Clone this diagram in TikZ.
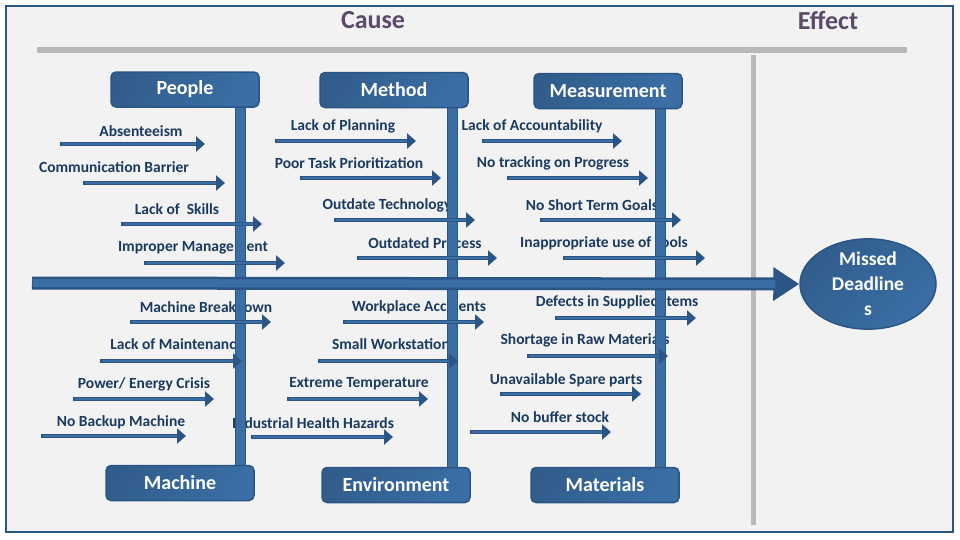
\documentclass[tikz,border=0pt]{standalone}
\usepackage{fontspec}
\setmainfont{Carlito}
\usetikzlibrary{arrows.meta,shapes.geometric}
\definecolor{dk}{HTML}{2A5585}
\definecolor{md}{HTML}{3A6EA5}
\definecolor{bg}{HTML}{F2F2F2}
\definecolor{ttl}{HTML}{5B4A6B}
\definecolor{lbl}{HTML}{1A3A60}
\tikzset{x=1pt,y=-1pt,
 hdr/.style={draw=dk,line width=1.5pt,rounded corners=5pt,top color=md!85!black,bottom color=md,shading angle=60,
   text=white,font=\bfseries\fontsize{20}{22}\selectfont,minimum width=148pt,minimum height=35pt,inner sep=0pt},
 lab/.style={text=lbl,font=\bfseries\fontsize{15.5}{17}\selectfont,inner sep=0pt},
 sa/.style={draw=dk,line width=4.5pt,-{Triangle[length=9pt,width=15pt]},color=dk},
 spine/.style={draw=dk,fill=md,line width=1pt}}
\begin{document}
\begin{tikzpicture}
\useasboundingbox (0,0) rectangle (960,539);
\node[draw=dk,line width=2pt,fill=bg,minimum width=947pt,minimum height=526pt,inner sep=0pt] (frame) at (479,268.5) {};
\node[text=ttl,font=\bfseries\fontsize{26}{28}\selectfont] (cause) at (373,20) {Cause};
\node[text=ttl,font=\bfseries\fontsize{26}{28}\selectfont] (effect) at (828,20) {Effect};
\fill[gray!55] (37,47) rectangle (907,53);
\fill[gray!55] (751,55) rectangle (756,525);
% labels
\foreach \n/\t/\x/\y in {
 a1/Absenteeism/141/131, a2/Communication Barrier/114/167, a3/Lack of\ \ Skills/177/209, a4/Improper Management/193/248,
 b1/Machine Breakdown/206/307, b2/Lack of Maintenance/177/344, b3/Power\slash\ Energy Crisis/144/384, b4/No Backup Machine/121/422,
 c1/Lack of Planning/343/126, c2/Poor Task Prioritization/349/163, c3/Outdate Technology/387/205, c4/Outdated Process/425/243,
 d1/Workplace Accidents/419/307, d2/Small Workstations/394/344, d3/Extreme Temperature/359/384, d4/Industrial Health Hazards/313/423,
 e1/Lack of Accountability/532/126, e2/No tracking on Progress/553/163, e3/No Short Term Goals/592/205, e4/Inappropriate use of Tools/604/243,
 f1/Defects in Supplied Items/617/302, f2/Shortage in Raw Materials/585/340, f3/Unavailable Spare parts/566/380, f4/No buffer stock/560/417}
 \node[lab] (\n) at (\x,\y) {\t};
% spines
\fill[spine] (235.5,100) rectangle (245,467);
\fill[spine] (447.5,100) rectangle (457,469);
\fill[spine] (655.5,100) rectangle (665,469);
% headers
\node[hdr] (people) at (185,89.5) {People};
\node[hdr] (method) at (394,90) {Method};
\node[hdr] (meas) at (608,91) {Measurement};
\node[hdr] (machine) at (180,483) {Machine};
\node[hdr] (env) at (396,485) {Environment};
\node[hdr] (mat) at (605,485) {Materials};
% effect
\node[ellipse,draw=dk,line width=1.5pt,top color=md!85!black,bottom color=md,shading angle=45,minimum width=136pt,minimum height=82pt,
 text=white,font=\bfseries\fontsize{19.5}{25}\selectfont,align=center,inner sep=0pt] (eff) at (868,284) {Missed\\Deadline\\s};
% main arrow
\coordinate (ms) at (32,283);
\draw[draw=dk,line width=13pt,-{Triangle[length=26pt,width=32pt]}] (ms) -- (eff.west);
\draw[md,line width=8pt,shorten >=24pt] (ms) ++(1,0) -- (eff.west);
% small arrows
\foreach \n/\xa/\xb/\y in {
 a1/60/205/144, a2/83/225/183, a3/121/262/224, a4/144/285/263,
 b1/130/271/322, b2/100/242/361, b3/73/214/399, b4/41/186/436,
 c1/275/416/141, c2/300/441/178, c3/334/475/220, c4/357/497/258,
 d1/343/484/322, d2/318/458/361, d3/287/428/399, d4/251/393/437,
 e1/482/622/141, e2/507/648/178, e3/540/681/220, e4/563/705/258,
 f1/555/696/318, f2/527/668/356, f3/500/641/394, f4/470/611/432}
 {\coordinate (\n s) at (\xa,\y); \coordinate (\n e) at (\xb,\y);
  \draw[sa] (\n s) -- (\n e);
  \draw[md,line width=1.5pt,shorten >=9pt,shorten <=1.5pt] (\n s) -- (\n e);}
\end{tikzpicture}
\end{document}
